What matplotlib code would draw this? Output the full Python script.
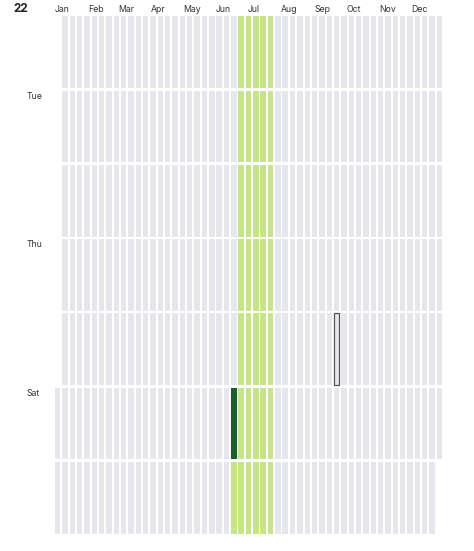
import numpy as np
import pandas as pd
import matplotlib
matplotlib.use("Agg")
import matplotlib.pyplot as plt

plt.rcParams['font.family'] = ['Inter', 'DejaVu Sans']

year = 2022
year_label = "22"
months = ['Jan', 'Feb', 'Mar', 'Apr', 'May', 'Jun', 'Jul', 'Aug', 'Sep', 'Oct', 'Nov', 'Dec']
weekday_labels = {1: 'Tue', 3: 'Thu', 5: 'Sat'}   # rows, Monday first

# activity (level 0 = none)
low_start, low_end = "2022-06-19", "2022-07-24"   # light green run
peak_dates = ["2022-06-18"]                          # dark green
marked_dates = ["2022-09-23"]                        # outlined cell

level_colors = {0: '#e6e7ec', 1: '#c6e48b', 4: '#1b5e2a'}

days = pd.date_range(f"{year}-01-01", f"{year}-12-31", freq="D")
levels = pd.Series(0, index=days)
levels[low_start:low_end] = 1
levels[pd.to_datetime(peak_dates)] = 4

first_wd = days[0].weekday()
week = (np.arange(len(days)) + first_wd) // 7
wday = days.weekday.values

fig = plt.figure(figsize=(4.74, 5.51), dpi=100)
ax = fig.add_axes([54/474, 16/551, 389/474, 520/551])

colors = [level_colors[v] for v in levels.values]
ax.bar(week + 0.5, 0.965, bottom=wday + 0.0175, width=0.74, color=colors, linewidth=0)

marked = pd.to_datetime(marked_dates)
for d in marked:
    i = days.get_loc(d)
    ax.bar(week[i] + 0.5, 0.965, bottom=wday[i] + 0.0175, width=0.74,
           color=level_colors[0], edgecolor='#555555', linewidth=0.9)

ax.set_xlim(0, 53)
ax.set_ylim(7, 0)
ax.axis('off')

# month labels on a linear date scale
for m, name in enumerate(months):
    doy = pd.Timestamp(year, m + 1, 1).dayofyear - 1
    ax.text(doy * 53 / 365 + 0.15, -0.08, name, fontsize=6.3, color='#333333',
            ha='left', va='center', clip_on=False)

for r, name in weekday_labels.items():
    ax.text(-3.68, r + 0.095, name, fontsize=6.3, color='#333333',
            ha='left', va='center', clip_on=False)

ax.text(-5.6, -0.08, year_label, fontsize=8.5, fontweight='bold', color='#222222',
        ha='left', va='center', clip_on=False)

fig.savefig("out.png", dpi=100)
